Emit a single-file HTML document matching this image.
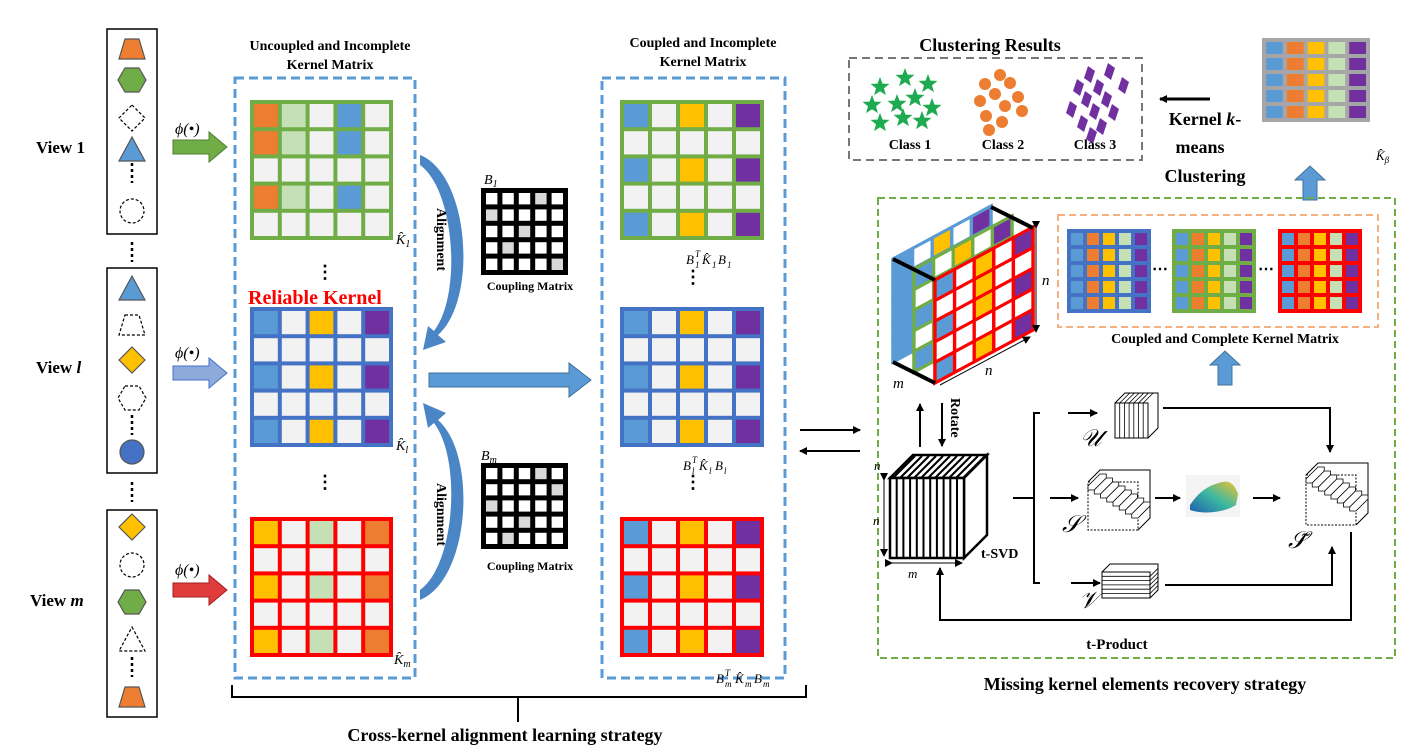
<!DOCTYPE html>
<html><head><meta charset="utf-8"><style>
body{margin:0;background:#fff}
svg{display:block;font-family:"Liberation Serif",serif}
.b{font-weight:bold}
</style></head><body>
<svg id="s" width="1417" height="753" viewBox="0 0 1417 753" xmlns="http://www.w3.org/2000/svg">
<defs>
<marker id="ah" markerWidth="8" markerHeight="8" refX="7" refY="4" orient="auto" markerUnits="userSpaceOnUse"><path d="M0,0 L8,4 L0,8 z" fill="#000"/></marker>
<linearGradient id="sf" x1="0" y1="1" x2="1" y2="0"><stop offset="0" stop-color="#1f5fb0"/><stop offset="0.5" stop-color="#3cb9a0"/><stop offset="1" stop-color="#f2c12e"/></linearGradient>
</defs>
<rect x="107" y="29" width="50" height="205" fill="none" stroke="#000" stroke-width="1.5"/>
<rect x="107" y="268" width="50" height="205" fill="none" stroke="#000" stroke-width="1.5"/>
<rect x="107" y="510" width="50" height="207" fill="none" stroke="#000" stroke-width="1.5"/>
<g id="shapes"></g>
<text x="36" y="153" font-size="17" class="b">View 1</text>
<text x="36" y="373" font-size="17" class="b">View <tspan font-style="italic">l</tspan></text>
<text x="30" y="606" font-size="17" class="b">View <tspan font-style="italic">m</tspan></text>
<text x="175" y="134" font-size="16" font-style="italic">ϕ(•)</text>
<text x="175" y="358" font-size="16" font-style="italic">ϕ(•)</text>
<text x="175" y="575" font-size="16" font-style="italic">ϕ(•)</text>
<path d="M173,140 h36 v-8 l18,15 l-18,15 v-8 h-36z" fill="#70AD47" stroke="#507e32"/>
<path d="M173,366 h36 v-8 l18,15 l-18,15 v-8 h-36z" fill="#8EAADB" stroke="#4472C4"/>
<path d="M173,583 h36 v-8 l18,15 l-18,15 v-8 h-36z" fill="#E03C3C" stroke="#a02020"/>
<text x="330" y="50" font-size="14" class="b" text-anchor="middle">Uncoupled and Incomplete</text>
<text x="330" y="69" font-size="14" class="b" text-anchor="middle">Kernel Matrix</text>
<text x="703" y="47" font-size="14" class="b" text-anchor="middle">Coupled and Incomplete</text>
<text x="703" y="66" font-size="14" class="b" text-anchor="middle">Kernel Matrix</text>
<rect x="235" y="78" width="180" height="600" fill="none" stroke="#5B9BD5" stroke-width="3" stroke-dasharray="9,5"/>
<rect x="602" y="78" width="183" height="600" fill="none" stroke="#5B9BD5" stroke-width="3" stroke-dasharray="9,5"/>
<g id="grids"></g>
<text x="248" y="304" font-size="20" class="b" fill="#FF0000">Reliable Kernel</text>
<text x="396" y="244" font-size="14" font-style="italic">K̂<tspan font-size="10" dy="3">1</tspan></text>
<text x="396" y="450" font-size="14" font-style="italic">K̂<tspan font-size="10" dy="3">l</tspan></text>
<text x="394" y="664" font-size="14" font-style="italic">K̂<tspan font-size="10" dy="3">m</tspan></text>
<g font-size="13" font-style="italic">
<text x="686" y="264">B</text><text x="695" y="257" font-size="9">T</text><text x="695" y="268" font-size="9">1</text><text x="702" y="264">K̂</text><text x="712" y="268" font-size="9">1</text><text x="718" y="264">B</text><text x="727" y="268" font-size="9">1</text>
<text x="683" y="470">B</text><text x="692" y="463" font-size="9">T</text><text x="692" y="474" font-size="9">l</text><text x="699" y="470">K̂</text><text x="709" y="474" font-size="9">l</text><text x="715" y="470">B</text><text x="724" y="474" font-size="9">l</text>
<text x="716" y="683">B</text><text x="725" y="676" font-size="9">T</text><text x="725" y="687" font-size="9">m</text><text x="735" y="683">K̂</text><text x="745" y="687" font-size="9">m</text><text x="754" y="683">B</text><text x="763" y="687" font-size="9">m</text>
</g>
<text x="325" y="278" font-size="18" class="b" text-anchor="middle">⋮</text>
<text x="325" y="488" font-size="18" class="b" text-anchor="middle">⋮</text>
<text x="693" y="283" font-size="18" class="b" text-anchor="middle">⋮</text>
<text x="693" y="488" font-size="18" class="b" text-anchor="middle">⋮</text>
<path d="M420,155 C470,175 478,300 438,335 L446,342 L423,350 L428,326 L434,331 C462,295 455,190 420,165z" fill="#4a86c5"/>
<path d="M420,600 C470,580 478,455 438,420 L446,413 L423,403 L428,428 L434,423 C462,460 455,565 420,590z" fill="#4a86c5"/>
<text transform="translate(437,208) rotate(90)" font-size="14" class="b">Alignment</text>
<text transform="translate(437,483) rotate(90)" font-size="14" class="b">Alignment</text>
<path d="M429,373 h140 v-10 l22,17 l-22,17 v-10 h-140z" fill="#5B9BD5" stroke="#41719c"/>
<text x="484" y="184" font-size="14" font-style="italic">B<tspan font-size="10" dy="3">1</tspan></text>
<text x="481" y="460" font-size="14" font-style="italic">B<tspan font-size="10" dy="3">m</tspan></text>
<text x="530" y="290" font-size="12" class="b" text-anchor="middle">Coupling Matrix</text>
<text x="530" y="570" font-size="12" class="b" text-anchor="middle">Coupling Matrix</text>
<path d="M232,685 v12 h574 v-12 M518,697 v25" fill="none" stroke="#000" stroke-width="2"/>
<text x="505" y="741" font-size="18" class="b" text-anchor="middle">Cross-kernel alignment learning strategy</text>
<line x1="800" y1="430" x2="860" y2="430" stroke="#000" stroke-width="2" marker-end="url(#ah)"/>
<line x1="860" y1="451" x2="800" y2="451" stroke="#000" stroke-width="2" marker-end="url(#ah)"/>
<text x="990" y="51" font-size="18" class="b" text-anchor="middle">Clustering Results</text>
<rect x="849" y="58" width="293" height="102" fill="none" stroke="#777" stroke-width="2" stroke-dasharray="8,5"/>
<g id="cls"></g>
<text x="910" y="149" font-size="14" class="b" text-anchor="middle">Class 1</text>
<text x="1003" y="149" font-size="14" class="b" text-anchor="middle">Class 2</text>
<text x="1095" y="149" font-size="14" class="b" text-anchor="middle">Class 3</text>
<line x1="1210" y1="99" x2="1160" y2="99" stroke="#000" stroke-width="3" marker-end="url(#ah)"/>
<text x="1205" y="125" font-size="18" class="b" text-anchor="middle">Kernel <tspan font-style="italic">k</tspan>-</text>
<text x="1200" y="153" font-size="18" class="b" text-anchor="middle">means</text>
<text x="1205" y="182" font-size="18" class="b" text-anchor="middle">Clustering</text>
<text x="1376" y="160" font-size="13" font-style="italic">K̂<tspan font-size="9" dy="3">β</tspan></text>
<path d="M1303,200 v-20 h-8 l15,-14 l15,14 h-8 v20z" fill="#5B9BD5" stroke="#41719c"/>
<rect x="878" y="198" width="517" height="460" fill="none" stroke="#70AD47" stroke-width="2" stroke-dasharray="7,4"/>
<rect x="1058" y="215" width="320" height="112" fill="none" stroke="#F4B183" stroke-width="2" stroke-dasharray="7,4"/>
<text x="1160" y="274" font-size="16" class="b" text-anchor="middle">⋯</text>
<text x="1266" y="274" font-size="16" class="b" text-anchor="middle">⋯</text>
<text x="1225" y="343" font-size="14" class="b" text-anchor="middle">Coupled and Complete Kernel Matrix</text>
<path d="M1218,385 v-20 h-8 l15,-14 l15,14 h-8 v20z" fill="#5B9BD5" stroke="#41719c"/>
<g id="tensor"></g>
<line x1="1036" y1="228" x2="1036" y2="332" stroke="#000" marker-end="url(#ah)" marker-start="url(#ah)"/>
<text x="1042" y="285" font-size="15" font-style="italic">n</text>
<text x="985" y="375" font-size="15" font-style="italic">n</text>
<text x="893" y="388" font-size="15" font-style="italic">m</text>
<line x1="920" y1="447" x2="920" y2="404" stroke="#000" stroke-width="2" marker-end="url(#ah)"/>
<line x1="942" y1="403" x2="942" y2="446" stroke="#000" stroke-width="2" marker-end="url(#ah)"/>
<text transform="translate(951,398) rotate(90)" font-size="14" class="b">Rotate</text>
<g id="cube"></g>
<text x="981" y="558" font-size="14" class="b">t-SVD</text>
<text x="874" y="470" font-size="13" font-style="italic">n</text>
<text x="873" y="525" font-size="13" font-style="italic">n</text>
<text x="908" y="578" font-size="13" font-style="italic">m</text>
<path d="M1013,498 h20 M1040,413 h-6 v170 h6" fill="none" stroke="#000" stroke-width="2"/>
<line x1="1068" y1="413" x2="1097" y2="413" stroke="#000" stroke-width="2" marker-end="url(#ah)"/>
<line x1="1050" y1="498" x2="1078" y2="498" stroke="#000" stroke-width="2" marker-end="url(#ah)"/>
<line x1="1071" y1="583" x2="1100" y2="583" stroke="#000" stroke-width="2" marker-end="url(#ah)"/>
<line x1="1155" y1="498" x2="1180" y2="498" stroke="#000" stroke-width="2" marker-end="url(#ah)"/>
<line x1="1253" y1="498" x2="1280" y2="498" stroke="#000" stroke-width="2" marker-end="url(#ah)"/>
<rect x="1186" y="475" width="54" height="42" fill="#f4f4f4"/>
<path d="M1190,505 C1200,490 1210,485 1222,482 C1232,480 1236,488 1238,494 L1236,505 C1225,512 1205,515 1190,510z" fill="url(#sf)"/>
<text x="1080" y="446" font-size="24" font-style="italic">𝒰</text>
<text x="1062" y="532" font-size="24" font-style="italic">𝒮</text>
<text x="1079" y="608" font-size="24" font-style="italic">𝒱</text>
<text x="1288" y="548" font-size="24" font-style="italic">𝒮̃</text>
<path d="M1163,408 h167 v44" fill="none" stroke="#000" stroke-width="2" marker-end="url(#ah)"/>
<path d="M1165,585 h167 v-38" fill="none" stroke="#000" stroke-width="2" marker-end="url(#ah)"/>
<path d="M1351,532 v88 h-411 v-52" fill="none" stroke="#000" stroke-width="2" marker-end="url(#ah)"/>
<text x="1117" y="649" font-size="15" class="b" text-anchor="middle">t-Product</text>
<text x="1145" y="690" font-size="18" class="b" text-anchor="middle">Missing kernel elements recovery strategy</text>
<g id="small"></g>
</svg>
<script>
const NS="http://www.w3.org/2000/svg";
function el(p,t,a){const e=document.createElementNS(NS,t);for(const k in a)e.setAttribute(k,a[k]);p.appendChild(e);return e;}
const C={O:"#ED7D31",G:"#C5E0B4",B:"#5B9BD5",Y:"#FFC000",P:"#7030A0",W:"#F2F2F2",w:"#fff",g:"#d9d9d9"};
function grid(p,x,y,w,h,bc,rows,gap){
  el(p,"rect",{x:x,y:y,width:w,height:h,fill:bc});
  const n=rows.length,cw=(w-(n+1)*gap)/n,ch=(h-(n+1)*gap)/n;
  rows.forEach((r,i)=>{[...r].forEach((c,j)=>{el(p,"rect",{x:x+gap+j*(cw+gap),y:y+gap+i*(ch+gap),width:cw,height:ch,fill:C[c]});});});
}
const G=document.getElementById("grids");
const k1=["OGWBW","OGWBW","WWWWW","OGWBW","WWWWW"];
const kl=["BWYWP","WWWWW","BWYWP","WWWWW","BWYWP"];
const km=["YWGWO","WWWWW","YWGWO","WWWWW","YWGWO"];
grid(G,250,100,143,140,"#70AD47",k1,4);
grid(G,250,307,143,140,"#4472C4",kl,4);
grid(G,250,517,143,140,"#FF0000",km,4);
grid(G,620,100,144,140,"#70AD47",kl,4);
grid(G,620,307,144,140,"#4472C4",kl,4);
grid(G,620,517,144,140,"#FF0000",kl,4);
grid(G,481,188,87,87,"#000",["wwwgw","gwwww","wwgww","wgwww","wwwwg"],5);
grid(G,481,463,87,86,"#000",["wwwgw","wwwwg","gwwww","wwgww","wgwww"],5);
const full=["BOYGP","BOYGP","BOYGP","BOYGP","BOYGP"];
grid(G,1067,229,84,84,"#4472C4",full,4);
grid(G,1172,229,84,84,"#70AD47",full,4);
grid(G,1278,229,84,84,"#FF0000",full,4);
grid(G,1262,38,108,84,"#A6A6A6",full,4);
const S=document.getElementById("shapes");
function shape(cx,cy,t,fill,dash){
  const a={fill:fill||"none",stroke:fill?"#555":"#000","stroke-width":1.2};
  if(dash)a["stroke-dasharray"]="3,2";
  if(t=="trap")el(S,"path",Object.assign({d:`M${cx-7},${cy-10}h14l6,20h-26z`},a));
  if(t=="hex")el(S,"path",Object.assign({d:`M${cx-7},${cy-12}h14l7,12l-7,12h-14l-7,-12z`},a));
  if(t=="dia")el(S,"path",Object.assign({d:`M${cx},${cy-13}l13,13l-13,13l-13,-13z`},a));
  if(t=="tri")el(S,"path",Object.assign({d:`M${cx},${cy-13}l13,24h-26z`},a));
  if(t=="cir")el(S,"circle",Object.assign({cx:cx,cy:cy,r:12},a));
  if(t=="dot")el(S,"line",{x1:cx,y1:cy-10,x2:cx,y2:cy+10,stroke:"#000","stroke-width":2.5,"stroke-dasharray":"3,3"});
}
const X=132;
[["trap",49,"#ED7D31"],["hex",80,"#70AD47"],["dia",118,null,1],["tri",150,"#5B9BD5"],["dot",173],["cir",211,null,1],
 ["dot",252],["tri",289,"#5B9BD5"],["trap",325,null,1],["dia",360,"#FFC000"],["hex",398,null,1],["dot",425],["cir",452,"#4472C4"],
 ["dot",492],["dia",527,"#FFC000"],["cir",565,null,1],["hex",602,"#70AD47"],["tri",640,null,1],["dot",667],["trap",697,"#ED7D31"]
].forEach(s=>shape(X,s[1],s[0],s[2],s[3]));
const K=document.getElementById("cls");
function star(cx,cy,r){let d="";for(let i=0;i<10;i++){const a=-Math.PI/2+i*Math.PI/5,rr=i%2?r*0.42:r;d+=(i?"L":"M")+(cx+rr*Math.cos(a)).toFixed(1)+","+(cy+rr*Math.sin(a)).toFixed(1);}el(K,"path",{d:d+"z",fill:"#1EAA50"});}
[[880,87],[905,78],[928,84],[872,105],[897,104],[915,98],[932,108],[880,123],[903,118],[922,121]].forEach(p=>star(p[0],p[1],10));
[[1000,75],[985,84],[1010,83],[1018,97],[995,94],[980,101],[1005,106],[1022,111],[986,116],[1002,122],[989,130]].forEach(p=>el(K,"circle",{cx:p[0],cy:p[1],r:6,fill:"#ED7D31"}));
[[1088,75],[1108,72],[1077,88],[1097,88],[1122,86],[1085,100],[1105,100],[1070,110],[1093,112],[1112,113],[1081,124],[1100,127],[1090,136]].forEach(p=>el(K,"path",{d:`M${p[0]},${p[1]-9}l7,5l-4,12l-7,-5z`,fill:"#7030A0"}));
const T=document.getElementById("tensor");
function sgrid(e,f,bc,rows){
  const g=el(T,"g",{transform:`matrix(19.6,-10.6,0,20.6,${e},${f})`});
  el(g,"rect",{x:0,y:0,width:5,height:5,fill:"#fff",stroke:bc,"stroke-width":0.17});
  rows.forEach((r,i)=>{[...r].forEach((c,j)=>{el(g,"rect",{x:j,y:i,width:1,height:1,fill:c=="W"?"#fff":C[c],stroke:bc,"stroke-width":0.17});});});
}
sgrid(893,259,"#5B9BD5",["BWYWP","BWWWW","BWWWW","BWWWW","BWWWW"]);
sgrid(914,269,"#70AD47",["BWYWP","WWYWP","BWWWW","WWWWW","BWWWW"]);
sgrid(935,280,"#FF0000",["BWYWP","WWYWW","BWYWP","WWWWW","BWYWP"]);
el(T,"line",{x1:893,y1:259,x2:935,y2:280,stroke:"#000","stroke-width":4});
el(T,"line",{x1:991,y1:207,x2:1033,y2:228,stroke:"#000","stroke-width":4});
el(T,"line",{x1:893,y1:362,x2:935,y2:383,stroke:"#000","stroke-width":4});
el(T,"line",{x1:940,y1:385,x2:1030,y2:337,stroke:"#000","marker-end":"url(#ah)"});
const Q=document.getElementById("cube");
el(Q,"path",{d:"M890,478 L913,455 L987,455 L964,478z",fill:"#fff",stroke:"#000","stroke-width":2.5});
for(let i=0;i<11;i++){const x=893+i*7;el(Q,"line",{x1:x,y1:478,x2:x+22,y2:456,stroke:"#000","stroke-width":2});}
el(Q,"path",{d:"M964,478 L987,455 L987,535 L964,558z",fill:"#fff",stroke:"#000","stroke-width":2.5});
el(Q,"rect",{x:890,y:478,width:74,height:80,fill:"#fff",stroke:"#000","stroke-width":2.5});
for(let i=1;i<11;i++){el(Q,"line",{x1:890+i*6.7,y1:478,x2:890+i*6.7,y2:558,stroke:"#000","stroke-width":2});}
el(Q,"line",{x1:884,y1:480,x2:884,y2:556,stroke:"#000","marker-end":"url(#ah)","marker-start":"url(#ah)"});
el(Q,"line",{x1:892,y1:563,x2:962,y2:563,stroke:"#000","marker-end":"url(#ah)","marker-start":"url(#ah)"});
const M=document.getElementById("small");
el(M,"path",{d:"M1115,403 l10,-10 h33 v35 l-10,10 z",fill:"#fff",stroke:"#000"});
el(M,"rect",{x:1115,y:403,width:33,height:35,fill:"#fff",stroke:"#000"});
for(let i=1;i<7;i++){el(M,"line",{x1:1115+i*4.7,y1:403,x2:1115+i*4.7,y2:438,stroke:"#000","stroke-width":0.8});el(M,"line",{x1:1115+i*4.7,y1:403,x2:1125+i*4.7,y2:393,stroke:"#000","stroke-width":0.8});}
el(M,"path",{d:"M1102,572 l8,-8 h48 v26 l-8,8 z",fill:"#fff",stroke:"#000"});
el(M,"rect",{x:1102,y:572,width:48,height:26,fill:"#fff",stroke:"#000"});
for(let i=1;i<6;i++){el(M,"line",{x1:1102,y1:572+i*4.3,x2:1150,y2:572+i*4.3,stroke:"#000","stroke-width":0.8});el(M,"line",{x1:1150,y1:572+i*4.3,x2:1158,y2:564+i*4.3,stroke:"#000","stroke-width":0.8});}
function sbox(x,y,w,h){
  el(M,"rect",{x:x,y:y,width:w,height:h,fill:"#fff",stroke:"#000","stroke-dasharray":"2,1.5"});
  el(M,"path",{d:`M${x},${y} l12,-12 h${w} v${h} l-12,12`,fill:"none",stroke:"#000"});
  for(let i=0;i<8;i++){const sx=x+i*(w/8),sy=y+i*4;el(M,"path",{d:`M${sx},${sy+4} l12,-12 h${w/8} v4 l-12,12 h-${w/8}z`,fill:"#fff",stroke:"#000","stroke-width":0.8});}
}
sbox(1088,482,50,48);
sbox(1306,475,50,50);
</script>
</body></html>
